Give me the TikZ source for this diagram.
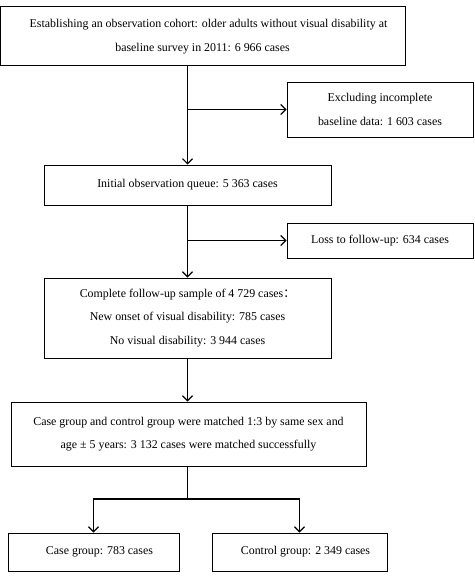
\documentclass[tikz,border=0pt]{standalone}
\usepackage{fontspec}
\setmainfont{Liberation Serif}
\newfontfamily\cjk{Noto Sans CJK SC}
\usetikzlibrary{arrows.meta}
\begin{document}
\begin{tikzpicture}[
  x=1pt, y=-1pt,
  box/.style={draw, line width=1pt, align=center, inner sep=0pt,
    font=\fontsize{11.9}{23.5}\selectfont},
  arrow/.style={line width=1.1pt, -{Straight Barb[length=5pt,width=10pt]}}
]
\useasboundingbox (0,0) rectangle (474,578);

% Main column
\node[box, minimum width=405pt, minimum height=59pt] (cohort) at (202.5,36.5)
  {\hspace*{12pt}Establishing an observation cohort: older adults without visual disability at\\
   baseline survey in 2011: 6 966 cases};
\node[box, minimum width=287pt, minimum height=40pt] (initial) at (187.5,185)
  {Initial observation queue: 5 363 cases};
\node[box, minimum width=287pt, minimum height=80pt] (complete) at (187.5,318)
  {Complete follow-up sample of 4 729 cases{\cjk ：}\\
   New onset of visual disability: 785 cases\\
   No visual disability: 3 944 cases};
\node[box, minimum width=355pt, minimum height=64pt] (matched) at (188.5,434)
  {Case group and control group were matched 1:3 by same sex and\\
   age ± 5 years: 3 132 cases were matched successfully};

% Right column: exclusions
\node[box, minimum width=186pt, minimum height=55pt] (exclude) at (380,109.5)
  {Excluding incomplete\\ baseline data: 1 603 cases};
\node[box, minimum width=186pt, minimum height=35pt] (loss) at (380,240.5)
  {Loss to follow-up: 634 cases};

% Bottom row: groups
\node[box, minimum width=171pt, minimum height=38pt] (case) at (93.5,552)
  {\hspace*{12pt}Case group: 783 cases};
\node[box, minimum width=175pt, minimum height=38pt] (control) at (299.5,552)
  {\hspace*{12pt}Control group: 2 349 cases};

\coordinate (b1) at (187.5,109.5);
\coordinate (b2) at (187.5,240.5);
\coordinate (b3) at (187.5,499);

\draw[arrow] (cohort.south -| initial.north) -- (initial.north);
\draw[arrow] (b1) -- (exclude.west);
\draw[arrow] (initial.south) -- (complete.north);
\draw[arrow] (b2) -- (loss.west);
\draw[arrow] (complete.south) -- (matched.north -| complete.south);
\draw[line width=1.1pt] (matched.south -| b3) -- (b3);
\draw[arrow] (b3) -| (case.north);
\draw[arrow] (b3) -| (control.north);
\end{tikzpicture}
\end{document}
